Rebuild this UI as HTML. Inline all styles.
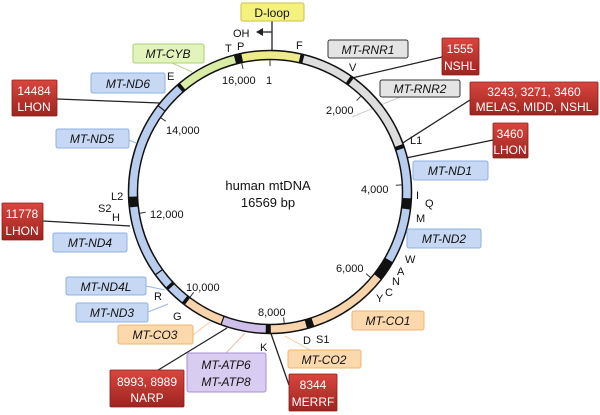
<!DOCTYPE html>
<html><head><meta charset="utf-8"><style>
html,body{margin:0;padding:0;background:#fff;}
svg{display:block;font-family:"Liberation Sans",sans-serif;}
</style></head><body>
<svg id="s" width="600" height="415" viewBox="0 0 600 415" xmlns="http://www.w3.org/2000/svg">
<defs>
<linearGradient id="red" x1="0" y1="0" x2="0" y2="1"><stop offset="0" stop-color="#d8463e"/><stop offset="1" stop-color="#9e2420"/></linearGradient>
</defs>
<g stroke="#222" stroke-width="1.3" fill="none">
<line x1="442" y1="57" x2="352" y2="78"/>
<line x1="470" y1="100" x2="398" y2="146"/>
<line x1="493" y1="140" x2="406" y2="158"/>
<line x1="57" y1="99" x2="160" y2="103"/>
<line x1="43" y1="221" x2="130" y2="226"/>
<line x1="155" y1="372" x2="227" y2="328"/>
<line x1="289" y1="385" x2="269" y2="328"/>
<line x1="272" y1="21" x2="272" y2="55"/>
<polyline points="272,32 262,32"/>
</g>
<polygon points="256,32 263,28 263,36" fill="#222"/>
<g stroke-width="1" fill="none">
<line x1="172" y1="63" x2="192" y2="72" stroke="#b8d890"/>
<line x1="400" y1="97" x2="352" y2="117" stroke="#ccc"/>
<line x1="129" y1="140" x2="136" y2="143" stroke="#9ab8e6"/>
<line x1="146" y1="286" x2="165" y2="290" stroke="#9ab8e6"/>
<line x1="148" y1="312" x2="168" y2="304" stroke="#9ab8e6"/>
<line x1="193" y1="335" x2="210" y2="322" stroke="#f3c9a0"/>
<line x1="226" y1="353" x2="245" y2="333" stroke="#e8c0b0"/>
<line x1="310" y1="350" x2="285" y2="336" stroke="#f3c9a0"/>
</g>
<g id="ring"></g>
<g font-size="11" fill="#111">
<text x="222" y="84">16,000</text>
<text x="266" y="84">1</text>
<text x="326" y="114">2,000</text>
<text x="361" y="193">4,000</text>
<text x="336" y="272">6,000</text>
<text x="258" y="316">8,000</text>
<text x="186" y="291">10,000</text>
<text x="150" y="218">12,000</text>
<text x="166" y="134">14,000</text>
</g>
<g font-size="11" fill="#111">
<text x="233" y="37">OH</text>
<text x="225" y="52">T</text>
<text x="237" y="50">P</text>
<text x="296" y="49">F</text>
<text x="349" y="71">V</text>
<text x="410" y="144">L1</text>
<text x="416" y="199">I</text>
<text x="425" y="207">Q</text>
<text x="416" y="222">M</text>
<text x="405" y="263">W</text>
<text x="397" y="275">A</text>
<text x="392" y="285">N</text>
<text x="385" y="296">C</text>
<text x="376" y="302">Y</text>
<text x="303" y="344">D</text>
<text x="316" y="343">S1</text>
<text x="260" y="351">K</text>
<text x="173" y="320">G</text>
<text x="154" y="300">R</text>
<text x="112" y="221">H</text>
<text x="98" y="212">S2</text>
<text x="111" y="200">L2</text>
<text x="167" y="80">E</text>
</g>
<g font-size="13" text-anchor="middle" fill="#111">
<text x="268" y="190">human mtDNA</text>
<text x="268" y="207">16569 bp</text>
</g>
<g font-size="12" font-style="italic" text-anchor="middle" fill="#111">
<rect x="241" y="3" width="63" height="18" rx="2" fill="#f4f27c" stroke="#c9c24a"/>
<text x="272" y="17" font-style="normal">D-loop</text>
<rect x="133" y="44" width="71" height="19" rx="2" fill="#e2f3bc" stroke="#a9d073"/>
<text x="168" y="58">MT-CYB</text>
<rect x="328" y="40" width="80" height="18" rx="2" fill="#e4e4e4" stroke="#333"/>
<text x="368" y="54">MT-RNR1</text>
<rect x="380" y="80" width="80" height="17" rx="2" fill="#e4e4e4" stroke="#333"/>
<text x="420" y="93">MT-RNR2</text>
<g fill="#c6d8f3" stroke="#8fb0e0">
<rect x="91" y="73" width="74" height="20" rx="2"/>
<rect x="56" y="129" width="73" height="19" rx="2"/>
<rect x="53" y="233" width="74" height="19" rx="2"/>
<rect x="66" y="277" width="80" height="18" rx="2"/>
<rect x="76" y="303" width="72" height="19" rx="2"/>
<rect x="413" y="161" width="75" height="19" rx="2"/>
<rect x="407" y="229" width="74" height="19" rx="2"/>
</g>
<text x="128" y="88">MT-ND6</text>
<text x="92" y="143">MT-ND5</text>
<text x="90" y="247">MT-ND4</text>
<text x="106" y="291">MT-ND4L</text>
<text x="112" y="317">MT-ND3</text>
<text x="450" y="175">MT-ND1</text>
<text x="444" y="243">MT-ND2</text>
<g fill="#fcd8ad" stroke="#efb470">
<rect x="352" y="311" width="72" height="19" rx="2"/>
<rect x="288" y="350" width="73" height="18" rx="2"/>
<rect x="118" y="325" width="75" height="19" rx="2"/>
</g>
<text x="388" y="325">MT-CO1</text>
<text x="324" y="364">MT-CO2</text>
<text x="155" y="339">MT-CO3</text>
<rect x="187" y="353" width="79" height="39" rx="2" fill="#d9ccf1" stroke="#a891d2"/>
<text x="226" y="369">MT-ATP6</text>
<text x="226" y="386">MT-ATP8</text>
</g>
<g fill="url(#red)" stroke="#8a1c18" stroke-width="0.8">
<rect x="442" y="38" width="37" height="37" rx="1"/>
<rect x="470" y="82" width="128" height="33" rx="1"/>
<rect x="493" y="123" width="35" height="35" rx="1"/>
<rect x="12" y="80" width="45" height="36" rx="1"/>
<rect x="2" y="203" width="41" height="37" rx="1"/>
<rect x="110" y="370" width="74" height="37" rx="1"/>
<rect x="289" y="374" width="48" height="37" rx="1"/>
</g>
<g font-size="12" fill="#fff" text-anchor="middle">
<text x="460" y="53">1555</text><text x="460" y="70">NSHL</text>
<text x="534" y="96">3243, 3271, 3460</text><text x="534" y="111">MELAS, MIDD, NSHL</text>
<text x="510" y="138">3460</text><text x="510" y="154">LHON</text>
<text x="34" y="95">14484</text><text x="34" y="111">LHON</text>
<text x="22" y="218">11778</text><text x="22" y="235">LHON</text>
<text x="147" y="386">8993, 8989</text><text x="147" y="402">NARP</text>
<text x="313" y="389">8344</text><text x="313" y="406">MERRF</text>
</g>
</svg>
<script>
(function(){
var cx=270,cy=192,r=137,N=16569,g=document.getElementById('ring'),ns='http://www.w3.org/2000/svg';
function pt(b){var a=b/N*2*Math.PI;return [cx+r*Math.sin(a),cy-r*Math.cos(a)];}
function arc(s,e,col,w){var p=document.createElementNS(ns,'path');var a=pt(s),b=pt(e);var span=((e-s+N)%N)/N*360;
p.setAttribute('d','M'+a[0]+' '+a[1]+' A'+r+' '+r+' 0 '+(span>180?1:0)+' 1 '+b[0]+' '+b[1]);
p.setAttribute('fill','none');p.setAttribute('stroke',col);p.setAttribute('stroke-width',w);g.appendChild(p);}
arc(0,8284,'#111',10.5);arc(8284,16568,'#111',10.5);
var segs=[[16030,16569,'#eeec88'],[0,576,'#eeec88'],[648,1601,'#dddddd'],[1671,3229,'#dddddd'],[3307,4262,'#b9cdef'],[4470,5511,'#b9cdef'],
[5904,7445,'#f7d4ab'],[7586,8269,'#f7d4ab'],[8366,9207,'#cdbfe9'],[9230,9990,'#f7d4ab'],[10059,10404,'#b9cdef'],[10470,10766,'#b9cdef'],
[10790,12137,'#b9cdef'],[12337,14148,'#b9cdef'],[14170,14673,'#b9cdef'],[14747,15887,'#d9eca6']];
segs.forEach(function(s){arc(s[0],s[1],s[2],7.5);});
[16000,0,2000,4000,6000,8000,10000,12000,14000].forEach(function(b){var a=b/N*2*Math.PI;
var l=document.createElementNS(ns,'line');var r1=r-5,r2=r-11;
l.setAttribute('x1',cx+r1*Math.sin(a));l.setAttribute('y1',cy-r1*Math.cos(a));l.setAttribute('x2',cx+r2*Math.sin(a));l.setAttribute('y2',cy-r2*Math.cos(a));
l.setAttribute('stroke','#333');l.setAttribute('stroke-width','1');g.appendChild(l);});
})();
</script>
</body></html>
